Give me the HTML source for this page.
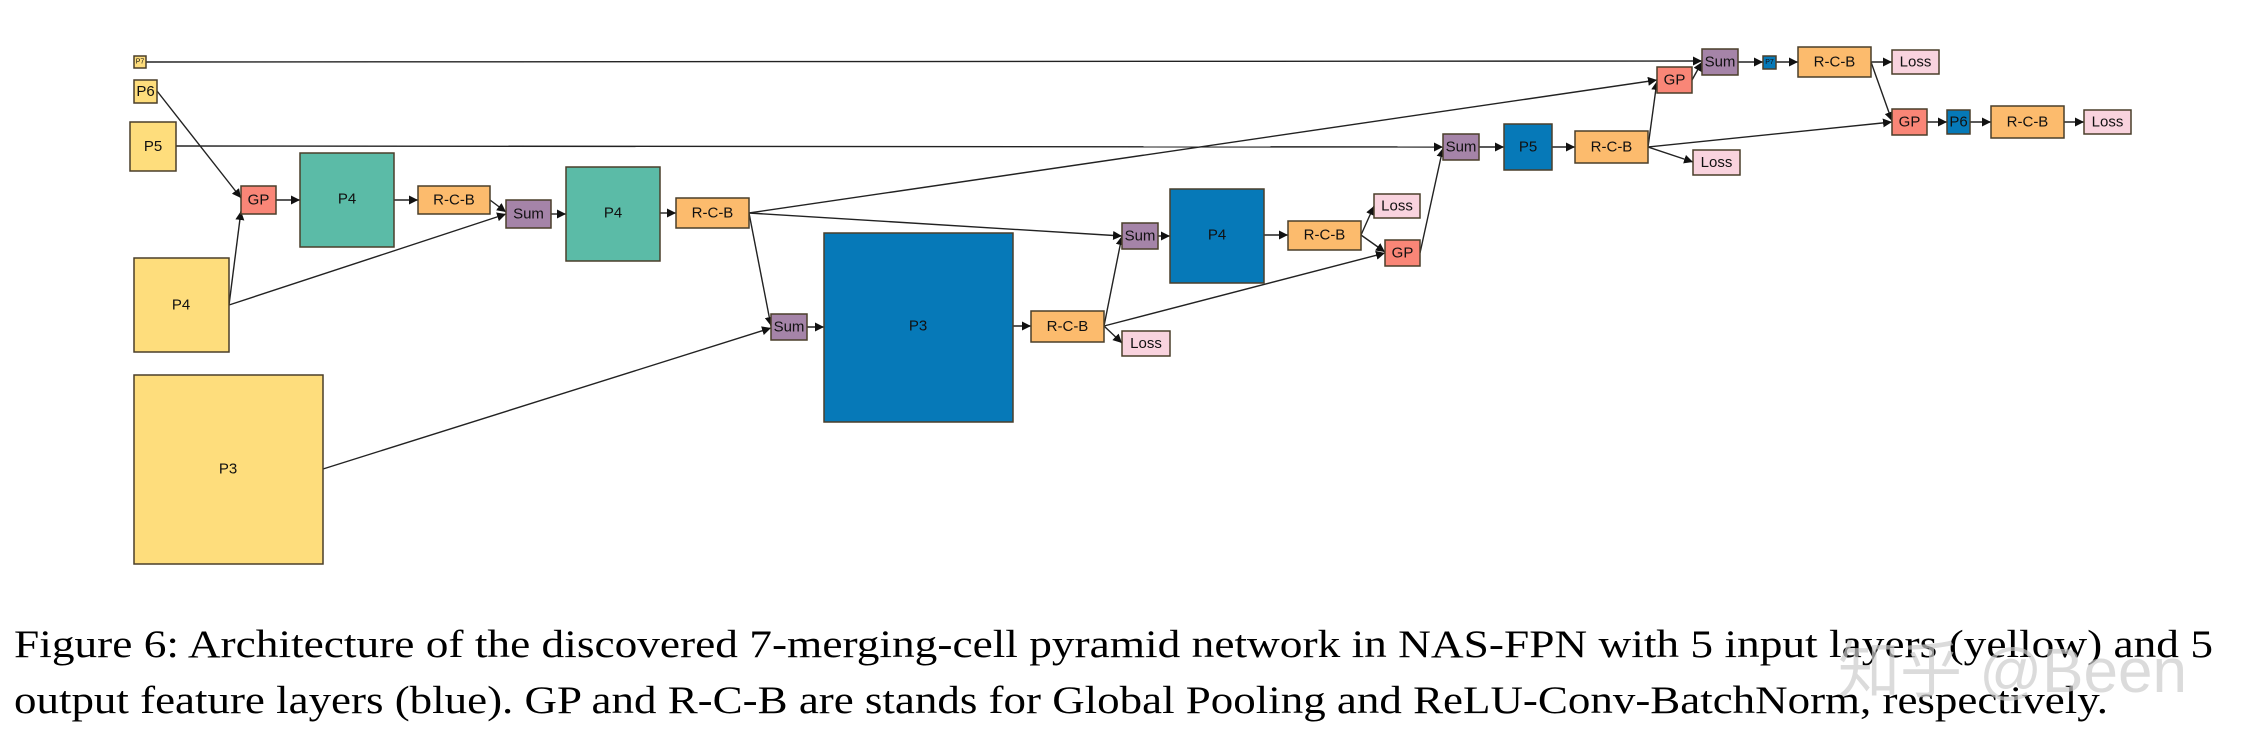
<!DOCTYPE html>
<html><head><meta charset="utf-8"><style>
html,body{margin:0;padding:0;background:#fff;}
svg{display:block;}
.n{stroke:#4a3f2a;stroke-width:1.5;}
.t{font-family:"Liberation Sans",sans-serif;font-size:15px;fill:#111;text-anchor:middle;dominant-baseline:central;}
.e{stroke:#222;stroke-width:1.4;fill:none;marker-end:url(#a);}
.cap{font-family:"Liberation Serif",serif;font-size:39px;fill:#000;}
</style></head><body>
<svg width="2266" height="754" viewBox="0 0 2266 754" xmlns="http://www.w3.org/2000/svg">
<defs><marker id="a" viewBox="0 0 10 10" refX="10" refY="5" markerWidth="9" markerHeight="9" markerUnits="userSpaceOnUse" orient="auto"><path d="M0,0L10,5L0,10z" fill="#111"/></marker></defs>
<g transform="translate(-2,-1)">
<path class="e" d="M148,63 L1704,62"/>
<path class="e" d="M159,92 L243,199"/>
<path class="e" d="M178,147 L1445,148"/>
<path class="e" d="M231,306 L243,212"/>
<path class="e" d="M231,306 L508,215"/>
<path class="e" d="M278,201 L302,201"/>
<path class="e" d="M396,201 L420,201"/>
<path class="e" d="M492,201 L508,213"/>
<path class="e" d="M553,215 L568,215"/>
<path class="e" d="M662,214 L678,214"/>
<path class="e" d="M751,214 L773,327"/>
<path class="e" d="M751,214 L1659,81"/>
<path class="e" d="M751,214 L1124,237"/>
<path class="e" d="M325,470 L773,329"/>
<path class="e" d="M809,328 L826,328"/>
<path class="e" d="M1015,327 L1033,327"/>
<path class="e" d="M1106,327 L1124,237"/>
<path class="e" d="M1106,327 L1124,344"/>
<path class="e" d="M1106,327 L1387,254"/>
<path class="e" d="M1160,237 L1172,237"/>
<path class="e" d="M1266,236 L1290,236"/>
<path class="e" d="M1363,236 L1376,207"/>
<path class="e" d="M1363,236 L1387,253"/>
<path class="e" d="M1422,254 L1445,149"/>
<path class="e" d="M1481,148 L1506,148"/>
<path class="e" d="M1554,148 L1577,148"/>
<path class="e" d="M1650,148 L1659,82"/>
<path class="e" d="M1650,148 L1695,163"/>
<path class="e" d="M1650,148 L1894,123"/>
<path class="e" d="M1694,81 L1704,63"/>
<path class="e" d="M1740,63 L1765,63"/>
<path class="e" d="M1778,63 L1800,63"/>
<path class="e" d="M1873,63 L1894,63"/>
<path class="e" d="M1873,63 L1894,122"/>
<path class="e" d="M1929,123 L1949,123"/>
<path class="e" d="M1972,123 L1993,123"/>
<path class="e" d="M2066,123 L2086,123"/>

<rect class="n" x="136" y="57" width="12" height="12" fill="#fedd7c"/><text class="t" x="142" y="63" style="font-size:7px">P7</text>
<rect class="n" x="136" y="81" width="23" height="23" fill="#fedd7c"/><text class="t" x="147.5" y="92.5">P6</text>
<rect class="n" x="132" y="123" width="46" height="49" fill="#fedd7c"/><text class="t" x="155" y="147.5">P5</text>
<rect class="n" x="136" y="259" width="95" height="94" fill="#fedd7c"/><text class="t" x="183" y="306">P4</text>
<rect class="n" x="136" y="376" width="189" height="189" fill="#fedd7c"/><text class="t" x="230" y="470">P3</text>

<rect class="n" x="243" y="187" width="35" height="28" fill="#f98677"/><text class="t" x="260.5" y="201">GP</text>
<rect class="n" x="302" y="154" width="94" height="94" fill="#5bbba7"/><text class="t" x="349" y="200">P4</text>
<rect class="n" x="420" y="187" width="72" height="28" fill="#fcbb6d"/><text class="t" x="456" y="201">R-C-B</text>
<rect class="n" x="508" y="201" width="45" height="28" fill="#a584a8"/><text class="t" x="530.5" y="215">Sum</text>
<rect class="n" x="568" y="168" width="94" height="94" fill="#5bbba7"/><text class="t" x="615" y="214">P4</text>
<rect class="n" x="678" y="199" width="73" height="30" fill="#fcbb6d"/><text class="t" x="714.5" y="214">R-C-B</text>

<rect class="n" x="773" y="315" width="36" height="26" fill="#a584a8"/><text class="t" x="791" y="328">Sum</text>
<rect class="n" x="826" y="234" width="189" height="189" fill="#0679b8"/><text class="t" x="920" y="327">P3</text>
<rect class="n" x="1033" y="312" width="73" height="31" fill="#fcbb6d"/><text class="t" x="1069.5" y="327.5">R-C-B</text>
<rect class="n" x="1124" y="332" width="48" height="25" fill="#f9d3de"/><text class="t" x="1148" y="344.5">Loss</text>
<rect class="n" x="1124" y="224" width="36" height="26" fill="#a584a8"/><text class="t" x="1142" y="237">Sum</text>
<rect class="n" x="1172" y="190" width="94" height="94" fill="#0679b8"/><text class="t" x="1219" y="236">P4</text>
<rect class="n" x="1290" y="222" width="73" height="29" fill="#fcbb6d"/><text class="t" x="1326.5" y="236">R-C-B</text>
<rect class="n" x="1376" y="195" width="46" height="24" fill="#f9d3de"/><text class="t" x="1399" y="207">Loss</text>
<rect class="n" x="1387" y="241" width="35" height="26" fill="#f98677"/><text class="t" x="1404.5" y="254">GP</text>

<rect class="n" x="1445" y="135" width="36" height="26" fill="#a584a8"/><text class="t" x="1463" y="148">Sum</text>
<rect class="n" x="1506" y="125" width="48" height="46" fill="#0679b8"/><text class="t" x="1530" y="148">P5</text>
<rect class="n" x="1577" y="132" width="73" height="32" fill="#fcbb6d"/><text class="t" x="1613.5" y="148">R-C-B</text>
<rect class="n" x="1695" y="151" width="47" height="25" fill="#f9d3de"/><text class="t" x="1718.5" y="163.5">Loss</text>
<rect class="n" x="1659" y="68" width="35" height="26" fill="#f98677"/><text class="t" x="1676.5" y="81">GP</text>
<rect class="n" x="1704" y="50" width="36" height="26" fill="#a584a8"/><text class="t" x="1722" y="63">Sum</text>
<rect class="n" x="1765" y="57" width="13" height="13" fill="#0679b8"/><text class="t" x="1771.5" y="63.5" style="font-size:7px">P7</text>
<rect class="n" x="1800" y="48" width="73" height="30" fill="#fcbb6d"/><text class="t" x="1836.5" y="63">R-C-B</text>
<rect class="n" x="1894" y="51" width="47" height="24" fill="#f9d3de"/><text class="t" x="1917.5" y="63">Loss</text>
<rect class="n" x="1894" y="110" width="35" height="26" fill="#f98677"/><text class="t" x="1911.5" y="123">GP</text>
<rect class="n" x="1949" y="111" width="23" height="24" fill="#0679b8"/><text class="t" x="1960.5" y="123">P6</text>
<rect class="n" x="1993" y="107" width="73" height="32" fill="#fcbb6d"/><text class="t" x="2029.5" y="123">R-C-B</text>
<rect class="n" x="2086" y="111" width="47" height="24" fill="#f9d3de"/><text class="t" x="2109.5" y="123">Loss</text>
</g>

<text class="cap" x="14" y="657" textLength="2199" lengthAdjust="spacingAndGlyphs">Figure 6:  Architecture of the discovered 7-merging-cell pyramid network in NAS-FPN with 5 input layers (yellow) and 5</text>
<text class="cap" x="14" y="713" textLength="2094" lengthAdjust="spacingAndGlyphs">output feature layers (blue). GP and R-C-B are stands for Global Pooling and ReLU-Conv-BatchNorm, respectively.</text>
<text x="1838" y="692" style="font-family:'Liberation Sans','Noto Sans CJK SC',sans-serif;font-size:62px;fill:#ccc;opacity:0.7">知乎 @Been</text>
</svg>
</body></html>
